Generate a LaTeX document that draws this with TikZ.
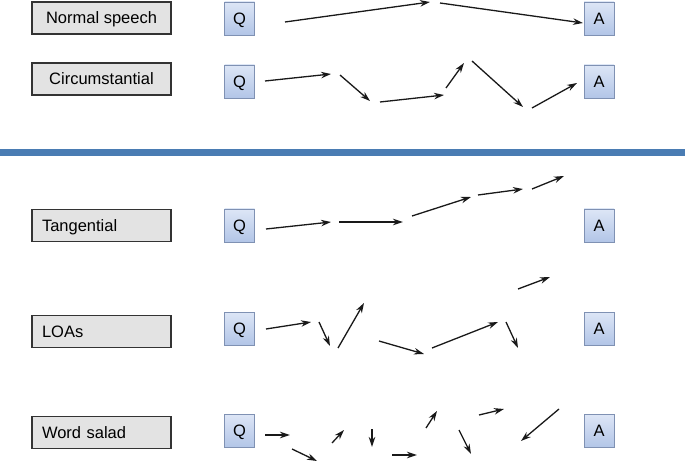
\documentclass[tikz,border=0pt]{standalone}
\usepackage{fontspec}
\setmainfont{Liberation Sans}
\usepackage{xcolor}
\usepackage{tikz}
\usetikzlibrary{
    positioning,
    arrows.meta
}
\definecolor{sepblue}{HTML}{4A7CB3}
\definecolor{qatop}{HTML}{DDE6F6}
\definecolor{qabottom}{HTML}{B2C5E7}
\definecolor{qaborder}{HTML}{7F91B3}
\definecolor{lblfill}{HTML}{E3E3E3}
\tikzset{
    lblbox/.style={
        rectangle, draw=black!80, line width=1.1pt, fill=lblfill,
        minimum width=139pt, minimum height=32pt,
        text height=12pt, text depth=0.6pt,
        font=\fontsize{16.5}{18}\selectfont
    },
    lblleft/.style={
        lblbox, text width=119pt, inner xsep=10pt, align=left
    },
    qabox/.style={
        rectangle, draw=qaborder, line width=0.9pt,
        top color=qatop, bottom color=qabottom,
        minimum width=30pt, minimum height=33pt, inner sep=0pt,
        text height=12pt, text depth=0.6pt,
        font=\fontsize{16.5}{18}\selectfont
    },
    arrow/.style={
        -{Stealth[length=10pt,width=6.5pt]}, line width=1.3pt, draw=black!90
    },
    sepline/.style={
        draw=sepblue, line width=7pt
    }
}
\begin{document}
\begin{tikzpicture}[x=1pt,y=-1pt]
    \useasboundingbox (0,0) rectangle (685,462);

    % labels
    \node[lblbox] (normal) at (101.5,18) {Normal speech};
    \node[lblbox] (circ) at (101.5,79) {Circumstantial};
    \node[lblleft] (tang) at (101.5,225.5) {Tangential};
    \node[lblleft] (loas) at (101.5,331.5) {LOAs};
    \node[lblleft] (salad) at (101.5,432.5) {Word salad};

    % question and answer boxes
    \foreach \r/\y in {1/18.5, 2/81.5, 3/225.5, 4/328.5, 5/431} {
        \node[qabox] (q\r) at (239.5,\y) {Q};
        \node[qabox] (a\r) at (599,\y) {A};
    }

    % separator
    \coordinate (sepl) at (0,152.5);
    \coordinate (sepr) at (685,152.5);
    \draw[sepline] (sepl) -- (sepr);

    % arrows
    \foreach \i/\sx/\sy/\ex/\ey in {
        1/285/22/430/2, 2/440/3/583/23,
        3/265/81/331/74, 4/340/75/370/101, 5/380/102/444/95,
        6/446/88/464/63, 7/472/61/523/107, 8/532/108/577/83,
        9/266/229/331/222, 10/339/222/403/222, 11/412/216/471/197,
        12/478/195/523/189, 13/532/189/564/176,
        14/266/329/311/322, 15/319/322/330/346, 16/338/348/364/303,
        17/379/341/424/354, 18/432/348/498/322, 19/506/322/518/348,
        20/518/289/550/277,
        21/265/435/290/435, 22/292/449/317/461, 23/332/443/344/430,
        24/372/429/372/447, 25/392/455/417/455, 26/426/428/437/411,
        27/459/430/471/454, 28/479/415/504/409, 29/559/409/521/441} {
        \coordinate (s\i) at (\sx,\sy);
        \coordinate (e\i) at (\ex,\ey);
        \draw[arrow] (s\i) -- (e\i);
    }
\end{tikzpicture}
\end{document}
